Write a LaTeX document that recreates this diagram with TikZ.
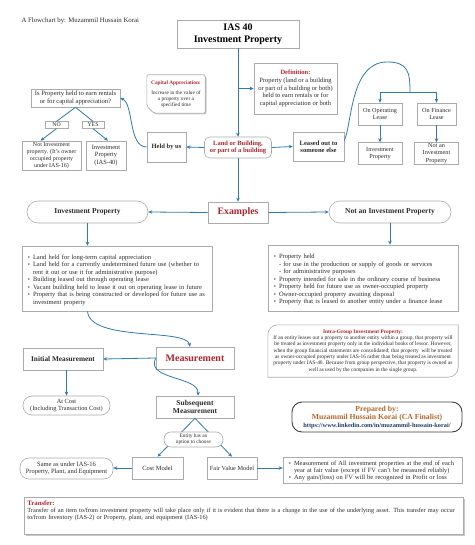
\documentclass[tikz,border=0pt]{standalone}
\usepackage{fontspec}
\setmainfont{Liberation Serif}
\usepackage{enumitem}
\usepackage{xcolor}
\definecolor{blue1}{HTML}{2F7AB3}
\definecolor{red1}{HTML}{B4232E}
\definecolor{gray1}{HTML}{ABABAB}
\definecolor{txt1}{HTML}{2B2B2B}
\definecolor{orange1}{HTML}{B8652A}
\definecolor{url1}{HTML}{1F3A6B}
\usetikzlibrary{arrows.meta, positioning, calc, shadows, backgrounds}
\newcommand{\fsz}[2]{\fontsize{#1}{#2}\selectfont}
\newcommand{\redhead}[1]{\textcolor{red1}{\bfseries #1}}
\setlist[itemize]{nosep, leftmargin=9pt, labelsep=3pt, label={\fsz{6}{6}\textbullet}}

\begin{document}
\begin{tikzpicture}[
  x=1pt, y=-1pt,
  node distance = 17pt,
  box/.style    = {draw=gray1, fill=white, text=txt1, line width=0.6pt,
                   align=center, inner sep=1pt, font=\fsz{6.5}{7.5}},
  pill/.style   = {box, rounded corners=9pt},
  blist/.style  = {box, align=left, inner xsep=2pt, inner ysep=2pt},
  dropsh/.style = {drop shadow={shadow xshift=1.3pt, shadow yshift=-1.3pt,
                   opacity=0.3, fill=black!70}},
  arr/.style    = {-{Stealth[length=4pt, width=3.5pt]}, line width=0.8pt, draw=blue1},
  link/.style   = {line width=0.8pt, draw=blue1}
]
\useasboundingbox (0,0) rectangle (474,545);
\begin{scope}[on background layer]
  \fill[white] (0,0) rectangle (474,545);
\end{scope}

% ── HEADER ──────────────────────────────────────────────
\node[anchor=west, text=txt1, font=\fsz{6.8}{8}] (byline) at (18,21)
     {A Flowchart by: Muzammil Hussain Korai};
\node[box, dropsh, minimum width=122, minimum height=28, text=black,
      font=\bfseries\fsz{10}{12}] (ias) at (238,34) {IAS 40\\Investment Property};

\node[box, minimum width=83, minimum height=51, font=\fsz{6.5}{7.7}] (defn) at (295.5,88.5)
     {\redhead{Definition:}\\Property (land or a building\\or part of a building or both)\\held to earn rentals or for\\capital appreciation or both};

\node[align=center, text=txt1, minimum width=58, minimum height=38, inner sep=1pt,
      font=\fsz{5.3}{6}] (capapp) at (176,94)
     {\redhead{Capital Appreciation:}\\[3.5pt]Increase in the value of\\a property over a\\specified time};
\begin{scope}[on background layer]
  \draw[draw=gray1, fill=white, line width=0.6pt, rounded corners=2pt, dropsh]
    ($(capapp.south west)+(0,-7)$) -- (capapp.north west) -- (capapp.north east)
    -- (capapp.south east) -- ($(capapp.south west)+(7,0)$) -- cycle;
\end{scope}

% ── LAND OR BUILDING ────────────────────────────────────
\node[box, rounded corners=5pt, minimum width=67, minimum height=21, text=red1,
      font=\bfseries\fsz{6.5}{7.7}] (land) at (238,147.5) {Land or Building,\\or part of a building};
\node[box, minimum width=39, minimum height=30, font=\bfseries\fsz{6.5}{7.5}] (held) at (166.5,147) {Held by us};
\node[box, minimum width=51, minimum height=29, font=\bfseries\fsz{6.6}{7.5}] (leased) at (318.5,146.5) {Leased out to\\someone else};

\node[box, minimum width=89, minimum height=18, inner sep=0.5pt, font=\fsz{6.6}{8.2}] (quest) at (75.5,98)
     {Is Property held to earn rentals\\or for capital appreciation?};
\node[box, minimum width=23, minimum height=6.7, inner sep=0pt, font=\fsz{5.8}{6}] (nolab) at (56.5,125) {NO};
\node[box, minimum width=22, minimum height=6.7, inner sep=0pt, font=\fsz{5.8}{6}] (yeslab) at (93,125) {YES};
\node[box, minimum width=59, minimum height=29, font=\fsz{6}{7}] (notinv) at (51.5,155.5)
     {Not Investment\\property. (It's owner\\occupied property\\under IAS-16)};
\node[box, minimum width=40, minimum height=29, font=\fsz{6.4}{7.3}] (invp) at (106,155.5)
     {Investment\\Property\\(IAS-40)};

\node[box, minimum width=44, minimum height=22, font=\fsz{6.2}{7.3}] (oplease) at (380,114) {On Operating\\Lease};
\node[box, minimum width=39, minimum height=22, font=\fsz{6.2}{7.3}] (finlease) at (436.5,114) {On Finance\\Lease};
\node[box, minimum width=44, minimum height=22, font=\fsz{6.2}{7.3}, below=of oplease] (invp2) {Investment\\Property};
\node[box, minimum width=44, minimum height=22, font=\fsz{6.2}{7.3}, below=of finlease] (notinv2) {Not an\\Investment\\Property};

% ── EXAMPLES ────────────────────────────────────────────
\node[box, minimum width=60, minimum height=21, text=red1,
      font=\bfseries\fsz{9.8}{11}] (examples) at (238,212.5) {Examples};
\node[pill, rounded corners=11pt, minimum width=121, minimum height=22,
      font=\bfseries\fsz{7.5}{9}] (ipstad) at (87.5,212) {Investment Property};
\node[pill, rounded corners=11pt, minimum width=122, minimum height=22,
      font=\bfseries\fsz{7.5}{9}] (nipstad) at (390,212) {Not an Investment Property};

\node[blist, text width=186, minimum height=65, font=\fsz{6.5}{7.5}] (iplist) at (117,278.5)
     {\begin{itemize}
        \item Land held for long-term capital appreciation
        \item Land held for a currently undetermined future use (whether to\\rent it out or use it for administrative purpose)
        \item Building leased out through operating lease
        \item Vacant building held to lease it out on operating lease in future
        \item Property that is being constructed or developed for future use as\\investment property
      \end{itemize}};
\node[blist, text width=186, minimum height=66, font=\fsz{6.5}{7.5}] (niplist) at (363,278)
     {\begin{itemize}
        \item Property held\\- for use in the production or supply of goods or services\\- for administrative purposes
        \item Property intended for sale in the ordinary course of business
        \item Property held for future use as owner-occupied property
        \item Owner-occupied property awaiting disposal
        \item Property that is leased to another entity under a finance lease
      \end{itemize}};

\node[align=center, text=txt1, minimum width=190, minimum height=52, inner sep=1pt,
      font=\fsz{5.4}{6.3}] (intra) at (363,351)
     {\redhead{Intra-Group Investment Property:}\\
      If an entity leases out a property to another entity within a group, that property will\\
      be treated as investment property only in the individual books of lessor. However,\\
      when the group financial statements are consolidated; that property\ \ will be treated\\
      as owner-occupied property under IAS-16 rather than being treated as investment\\
      property under IAS-40. Because from group perspective, that property is owned as\\
      well as used by the companies in the single group.};
\draw[draw=gray1, line width=0.6pt] (intra.north) -- (intra.north east) -- (intra.east)
  [rounded corners=10pt] -- (intra.south east) -- (intra.south)
  [sharp corners] -- (intra.south west) -- (intra.west)
  [rounded corners=10pt] -- (intra.north west) -- cycle;

% ── MEASUREMENT ─────────────────────────────────────────
\node[box, minimum width=78, minimum height=22, text=red1,
      font=\bfseries\fsz{10}{12}] (meas) at (195,358) {Measurement};
\node[box, minimum width=80, minimum height=22, font=\bfseries\fsz{7.3}{8.5}] (init) at (63,359) {Initial Measurement};
\node[pill, minimum width=87, minimum height=19, font=\fsz{6.3}{7.5}] (atcost) at (66.5,405.5)
     {At Cost\\(Including Transaction Cost)};
\node[box, minimum width=78, minimum height=22, font=\bfseries\fsz{7.5}{8.3}] (subseq) at (195,407)
     {Subsequent\\Measurement};
\node[box, minimum width=51, minimum height=22, font=\fsz{6.4}{7.5}] (cost) at (157.5,468) {Cost Model};
\node[box, minimum width=50, minimum height=22, font=\fsz{6.3}{7.5}] (fv) at (232,468) {Fair Value Model};
\node[pill, minimum width=93, minimum height=21, font=\fsz{6.5}{7.7}] (same) at (66.5,468.5)
     {Same as under IAS-16\\Property, Plant, and Equipment};
\node[blist, text width=175, minimum height=26, font=\fsz{6.4}{7}] (fvlist) at (372.5,470)
     {\begin{itemize}
        \item Measurement of All investment properties at the end of each\\year at fair value (except if FV can't be measured reliably)
        \item Any gain/(loss) on FV will be recognized in Profit or loss
      \end{itemize}};

\node[draw=black!75, line width=0.9pt, rounded corners=10pt, minimum width=170, minimum height=30,
      align=center, inner sep=1pt, text=orange1, font=\bfseries\fsz{7.7}{8}] (prep) at (377,417)
     {Prepared by:\\Muzammil Hussain Korai (CA Finalist)\\
      {\color{url1}\fsz{6.3}{8}https://www.linkedin.com/in/muzammil-hussain-korai/}};

\node[box, dropsh, anchor=north west, align=left, text width=433, minimum height=37,
      inner xsep=3pt, inner ysep=3pt, font=\fsz{6.3}{7}] (transfer) at (24,497)
     {\redhead{\fsz{6.8}{7}Transfer:}\\
      Transfer of an item to/from investment property will take place only if it is evident that there is a change in the use of the underlying asset. This transfer may occur\\
      to/from Inventory (IAS-2) or Property, plant, and equipment (IAS-16)\rule[-11pt]{0pt}{11pt}};

% ── ARROWS ──────────────────────────────────────────────
\coordinate (tdef) at (ias.south |- defn.west);
\draw[arr] (ias.south) -- (land.north);
\draw[arr] (tdef) -- (defn.west);
\draw[arr] (land.south) -- (examples.north);
\draw[arr] (land.west) -- (held.east);
\draw[arr] (land.east) -- (leased.west);

\draw[arr] (held.west) .. controls (128,147) and (134,104) .. (quest.east);
\draw[link] (quest.south) -- (nolab.north);
\draw[link] (quest.south) -- (yeslab.north);
\draw[arr] (nolab.south) -- ($(notinv.north)+(-11,0)$);
\draw[arr] (yeslab.south) -- ($(invp.north)+(2,0)$);

\coordinate (lsplit) at (410,92);
\draw[link] ($(leased.east)+(0,-6)$) .. controls (352,125) and (350,62) .. (387,62)
            .. controls (408,62) and (410,72) .. (lsplit);
\draw[link] (oplease.north |- lsplit) -- (finlease.north |- lsplit);
\draw[arr] (oplease.north |- lsplit) -- (oplease.north);
\draw[arr] (finlease.north |- lsplit) -- (finlease.north);
\draw[arr] (oplease.south) -- (invp2.north);
\draw[arr] (finlease.south) -- (notinv2.north);

\draw[arr] (examples.west) -- (ipstad.east);
\draw[arr] (examples.east) -- (nipstad.west);
\draw[arr] (ipstad.south) -- (ipstad.south |- iplist.north);
\draw[arr] (nipstad.south) -- (nipstad.south |- niplist.north);

\draw[arr] (ipstad.south |- iplist.south) .. controls (90,342) and (186,328) .. ($(meas.north)+(-5,0)$);
\draw[arr] (meas.west) -- (init.east);
\draw[arr] (meas.west) .. controls (145,380) and (199,376) .. ($(subseq.north)+(3,0)$);
\draw[arr] (atcost.north |- init.south) -- (atcost.north);

\draw[arr] (subseq.south) -- (cost.north);
\draw[arr] (subseq.south) -- (fv.north);
\node[pill, rounded corners=7pt, minimum width=59, minimum height=15, inner sep=0.5pt,
      font=\fsz{5.3}{6}] (entity) at (193.5,439.5) {Entity has an\\option to choose};
\draw[arr] (cost.west) -- (cost.west -| same.east);
\draw[arr] (fv.east) -- (fv.east -| fvlist.west);

\end{tikzpicture}
\end{document}
